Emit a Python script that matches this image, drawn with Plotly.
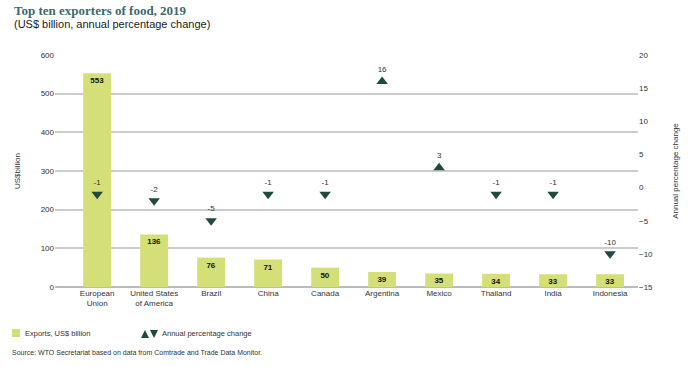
import plotly.graph_objects as go

categories = ["European<br>Union", "United States<br>of America", "Brazil", "China", "Canada",
              "Argentina", "Mexico", "Thailand", "India", "Indonesia"]
exports = [553, 136, 76, 71, 50, 39, 35, 34, 33, 33]
pct_change = [-1, -2, -5, -1, -1, 16, 3, -1, -1, -10]

BAR = "#d4df78"
MARK = "#1f4a3f"
TXT = "#333333"
FONT = "Liberation Sans, Arial, sans-serif"

symbols = ["triangle-up" if v > 0 else "triangle-down" for v in pct_change]

fig = go.Figure()
fig.add_trace(go.Bar(
    x=categories, y=exports, width=0.49, marker=dict(color=BAR, line=dict(width=0)),
    text=[str(v) for v in exports], textposition="inside", insidetextanchor="end",
    textfont=dict(family=FONT, size=8, color="#111111"), texttemplate="<b>%{text}</b>",
    textangle=0, constraintext="none", showlegend=False, cliponaxis=False,
))
fig.add_trace(go.Scatter(
    x=categories, y=pct_change, yaxis="y2", mode="markers+text",
    marker=dict(symbol=symbols, size=10, color=MARK, line=dict(width=0)),
    text=[str(v) for v in pct_change], textposition="top center",
    textfont=dict(family=FONT, size=8, color=TXT), showlegend=False, cliponaxis=False,
))

# plot area in page pixels: x 55..638, y 55..287
W = 583.0
H = 232.0


def px(x):
    return (x - 55) / W


def py(y):
    return (287 - y) / H


ann = [
    dict(text="<b>Top ten exporters of food, 2019</b>", xref="paper", yref="paper",
         x=px(12), y=py(10), xanchor="left", yanchor="middle",
         showarrow=False, font=dict(family="Liberation Serif, serif", size=13, color="#3b6a6b")),
    dict(text="(US$ billion, annual percentage change)", xref="paper", yref="paper",
         x=px(12), y=py(24), xanchor="left", yanchor="middle",
         showarrow=False, font=dict(family=FONT, size=11, color="#222222")),
    dict(text="Exports, US$ billion", xref="paper", yref="paper",
         x=px(23), y=py(333), xanchor="left", yanchor="middle",
         showarrow=False, font=dict(family=FONT, size=7.5, color=TXT)),
    dict(text="Annual percentage change", xref="paper", yref="paper",
         x=px(160), y=py(333), xanchor="left", yanchor="middle",
         showarrow=False, font=dict(family=FONT, size=7.5, color=TXT)),
    dict(text="Source: WTO Secretariat based on data from Comtrade and Trade Data Monitor.",
         xref="paper", yref="paper",
         x=px(10), y=py(352), xanchor="left", yanchor="middle",
         showarrow=False, font=dict(family=FONT, size=7, color=TXT)),
]

fig.update_layout(
    width=689, height=367,
    margin=dict(l=55, r=51, t=55, b=80, autoexpand=False),
    paper_bgcolor="white", plot_bgcolor="white",
    font=dict(family=FONT, size=8, color=TXT),
    xaxis=dict(range=[-0.74, 9.49], showgrid=False, showline=False, ticks="", automargin=False,
               tickfont=dict(size=8, color=TXT)),
    yaxis=dict(range=[0, 600], dtick=100, showgrid=True, gridcolor="#cccccc", gridwidth=1.5,
               zeroline=True, zerolinecolor="#bbbbbb", zerolinewidth=1.5, ticks="", automargin=False,
               tickfont=dict(size=8, color=TXT),
               title=dict(text="US$billion", font=dict(size=8, color=TXT), standoff=18)),
    yaxis2=dict(range=[-15, 20], dtick=5, overlaying="y", side="right", showgrid=False,
                zeroline=False, ticks="", automargin=False, tickfont=dict(size=8, color=TXT),
                title=dict(text="Annual percentage change", font=dict(size=8, color=TXT), standoff=20)),
    annotations=ann,
)
fig.add_shape(type="rect", xref="paper", yref="paper",
              x0=px(12), x1=px(20), y0=py(337), y1=py(329),
              fillcolor=BAR, line=dict(width=0))
fig.add_shape(type="path", xref="paper", yref="paper",
              path="M %f %f L %f %f L %f %f Z" % (px(141), py(338), px(149), py(338), px(145), py(330)),
              fillcolor=MARK, line=dict(width=0))
fig.add_shape(type="path", xref="paper", yref="paper",
              path="M %f %f L %f %f L %f %f Z" % (px(150), py(330), px(158), py(330), px(154), py(338)),
              fillcolor=MARK, line=dict(width=0))

fig.write_html("out.html", config={"displayModeBar": False},
               post_script="document.body.style.margin='0px';document.body.style.overflow='hidden';")
